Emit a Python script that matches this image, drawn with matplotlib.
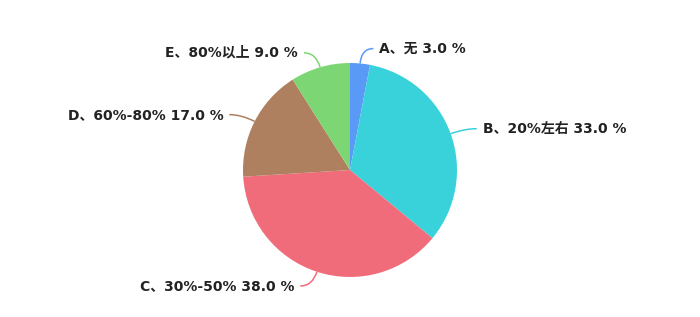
import numpy as np
import matplotlib
matplotlib.use("Agg")
import matplotlib.pyplot as plt
from matplotlib.path import Path
from matplotlib.patches import PathPatch

plt.rcParams['font.family'] = ['DejaVu Sans', 'Noto Sans CJK SC']

categories = ["A、无", "B、20%左右", "C、30%-50%", "D、60%-80%", "E、80%以上"]
values = [3.0, 33.0, 38.0, 17.0, 9.0]
colors = ["#5A9AF7", "#3AD2DA", "#F16C7B", "#AF805F", "#7DD674"]

W, H = 700, 317
fig = plt.figure(figsize=(W / 100, H / 100), dpi=100)
ax = fig.add_axes([0, 0, 1, 1])

cx, cy, R = 350, 147, 107
wedges, _ = ax.pie(values, colors=colors, startangle=90, counterclock=False,
                   center=(cx, cy), radius=R, frame=True,
                   wedgeprops=dict(linewidth=0))
ax.set_xlim(0, W)
ax.set_ylim(0, H)
ax.set_aspect('equal')
ax.axis('off')

L1, L2, PAD = 15, 12, 6
for w, cat, val, col in zip(wedges, categories, values, colors):
    ang = np.deg2rad((w.theta1 + w.theta2) / 2)
    x0, y0 = cx + R * np.cos(ang), cy + R * np.sin(ang)
    x1, y1 = cx + (R + L1) * np.cos(ang), cy + (R + L1) * np.sin(ang)
    right = np.cos(ang) >= 0
    sgn = 1 if right else -1
    x2, y2 = x1 + sgn * L2, y1
    path = Path([(x0, y0), (x1, y1), (x2, y2)],
                [Path.MOVETO, Path.CURVE3, Path.CURVE3])
    ax.add_patch(PathPatch(path, facecolor='none', edgecolor=col, lw=1.1))
    ax.text(x2 + sgn * PAD, y2, f"{cat} {val:.1f} %", ha='left' if right else 'right',
            va='center', fontsize=10, fontweight='bold', color='#222222')

fig.savefig('out.png', dpi=100, facecolor='white')
